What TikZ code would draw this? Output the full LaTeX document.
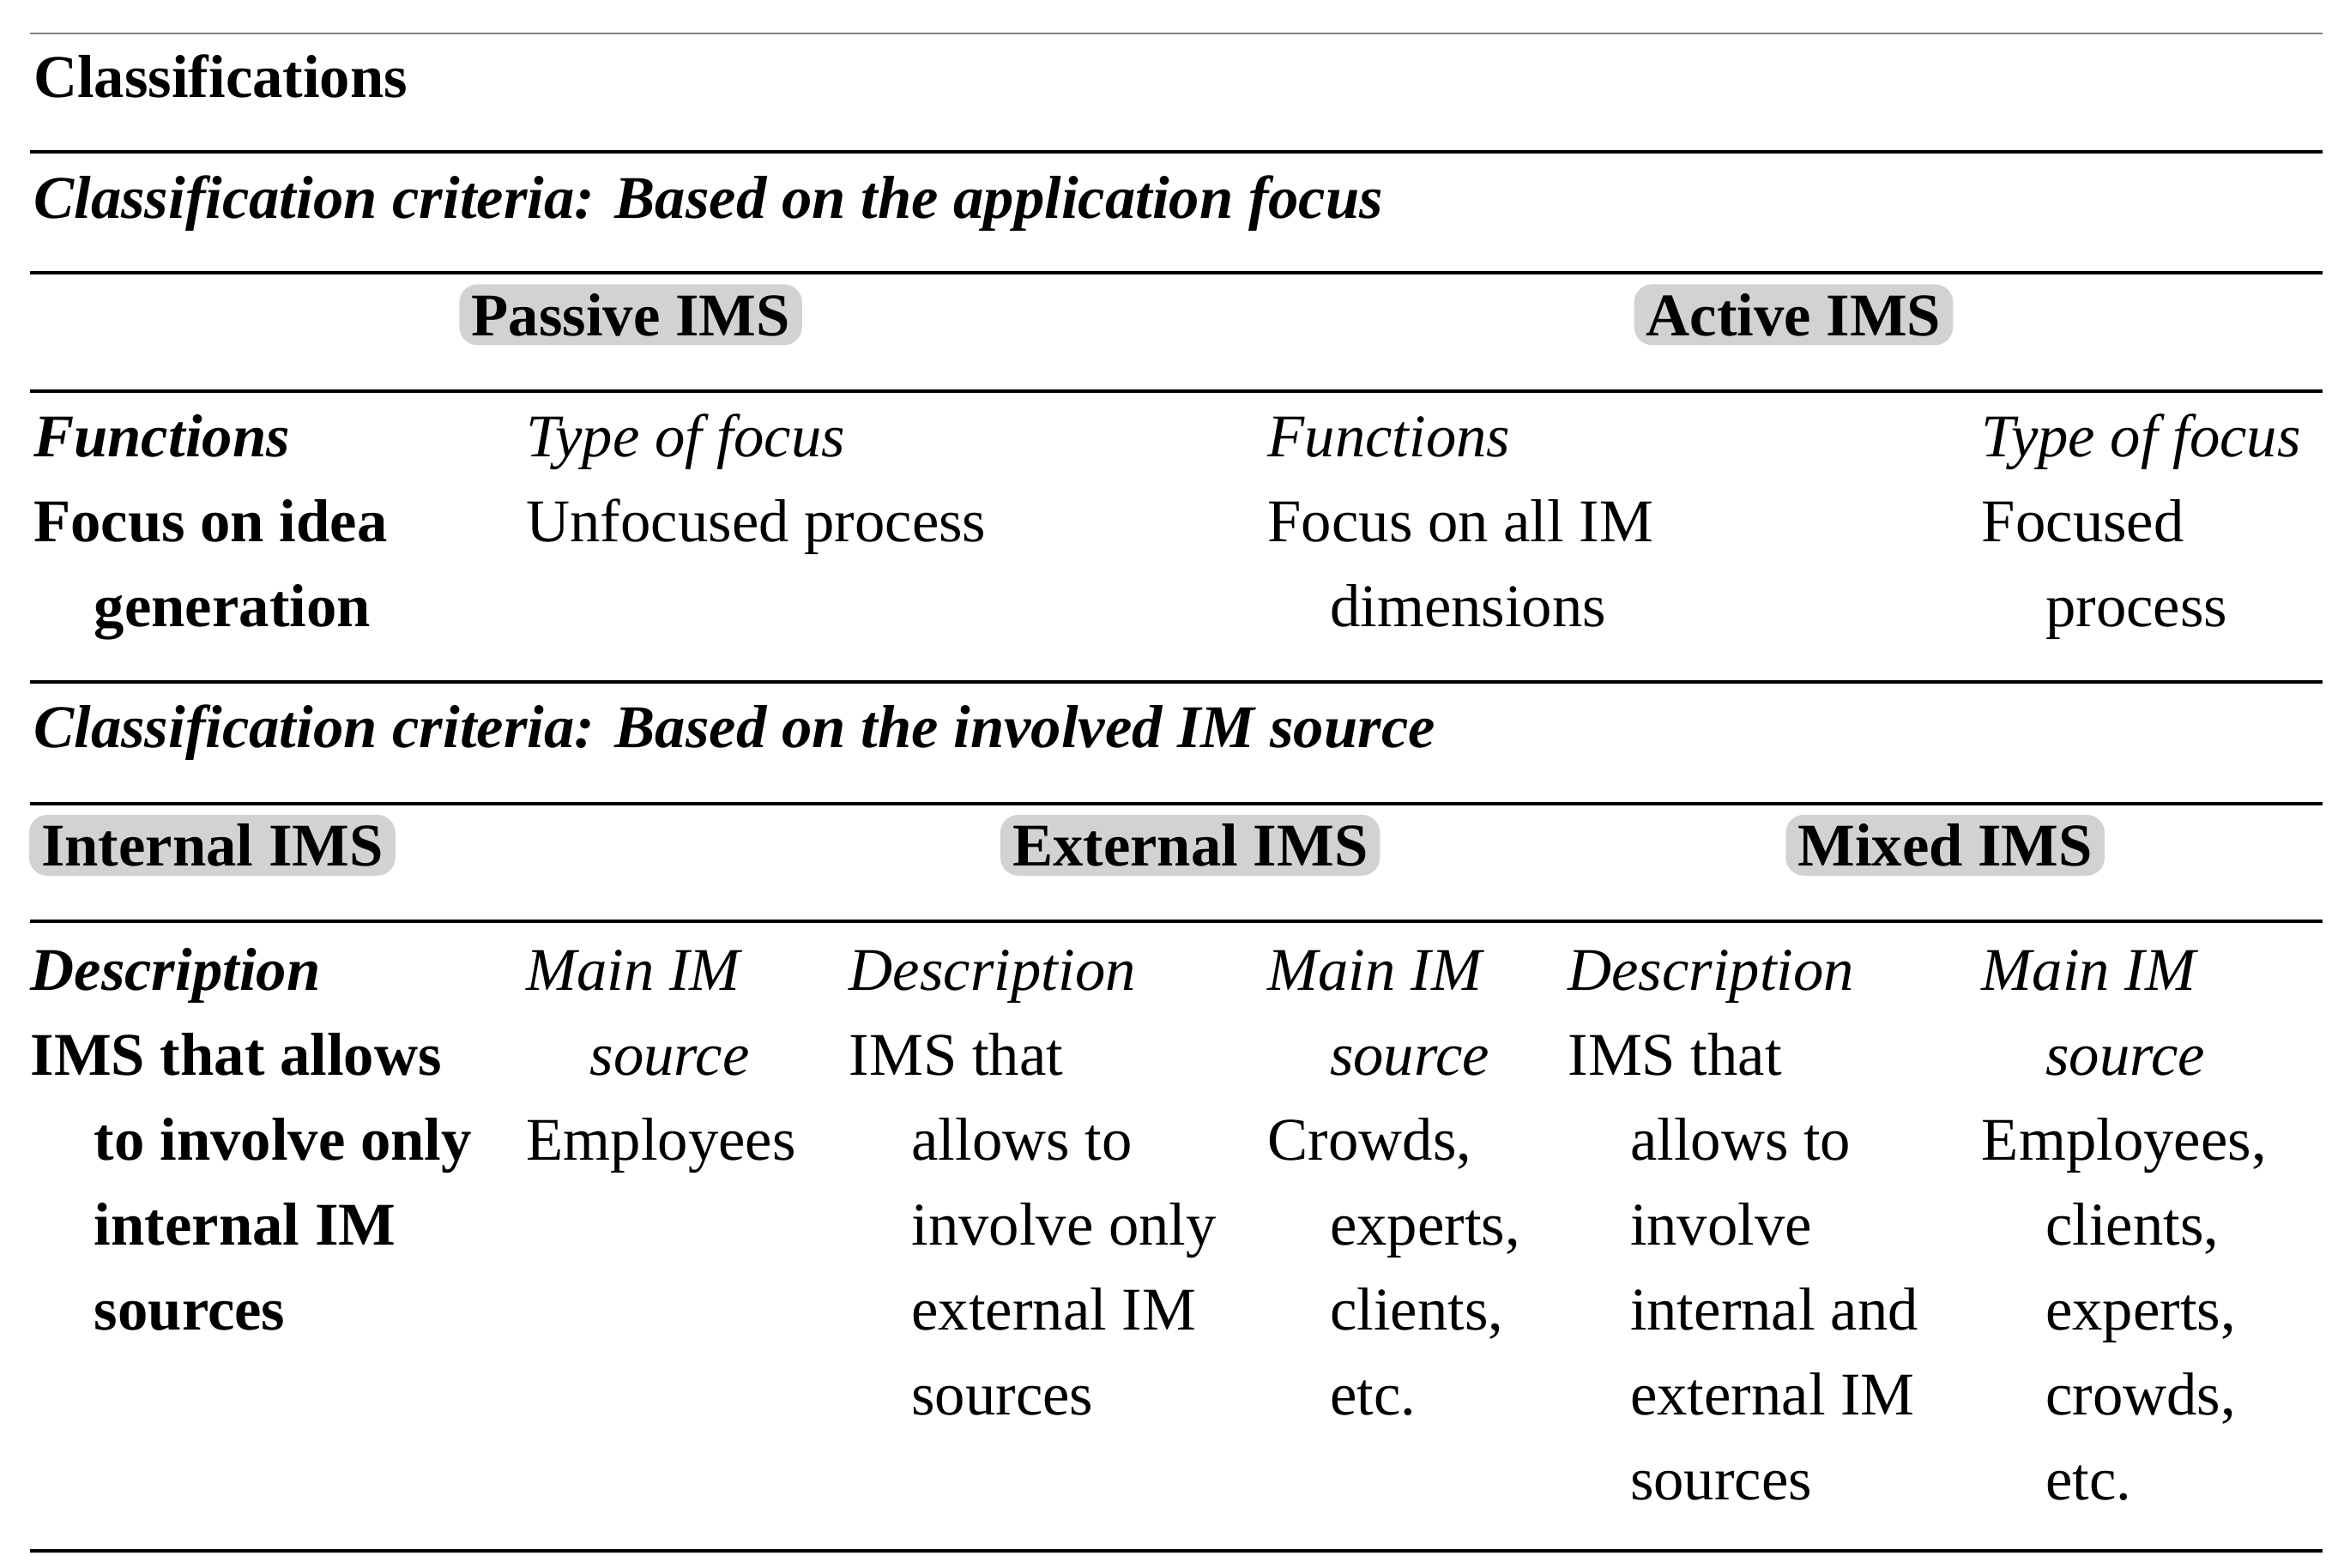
\documentclass[tikz,border=0pt]{standalone}
\usepackage{fontspec}
\setmainfont{Liberation Serif}
\begin{document}
\begin{tikzpicture}[x=1pt,y=-1pt,
  txt/.style={anchor=mid west,inner sep=0pt,font=\fontsize{40}{48}\selectfont},
  bf/.style={txt,font=\fontsize{40}{48}\selectfont\bfseries},
  it/.style={txt,font=\fontsize{40}{48}\selectfont\itshape},
  bi/.style={txt,font=\fontsize{40}{48}\selectfont\bfseries\itshape},
  hl/.style={anchor=mid,font=\fontsize{40}{48}\selectfont\bfseries,fill=gray!35,rounded corners=12pt,inner xsep=8pt,inner ysep=6pt},
  rule/.style={line width=2.2pt}]
\useasboundingbox (0,0) rectangle (1550,1034);
\draw[gray,line width=0.8pt] (20,22) -- (1532,22);
\foreach \y in {100,180,258,450,530,608,1023} \draw[rule] (20,\y) -- (1532,\y);
\node[bf] (cl) at (22,62) {Classifications};
\node[bi] (c1) at (22,142) {Classification criteria: Based on the application focus};
\node[hl] (pas) at (416,219) {Passive IMS};
\node[hl] (act) at (1183,219) {Active IMS};
\node[bi] (f1) at (22,299) {Functions};
\node[it] (t1) at (347,299) {Type of focus};
\node[it] (f2) at (836,299) {Functions};
\node[it] (t2) at (1307,299) {Type of focus};
\node[bf] (a1) at (22,355) {Focus on idea};
\node[bf] (a2) at (62,411) {generation};
\node[txt] (b1) at (347,355) {Unfocused process};
\node[txt] (c1a) at (836,355) {Focus on all IM};
\node[txt] (c2a) at (877,411) {dimensions};
\node[txt] (d1) at (1307,355) {Focused};
\node[txt] (d2) at (1349,411) {process};
\node[bi] (c2) at (22,491) {Classification criteria: Based on the involved IM source};
\node[hl] (int) at (140,569) {Internal IMS};
\node[hl] (ext) at (785,569) {External IMS};
\node[hl] (mix) at (1283,569) {Mixed IMS};
\node[bi] (h1) at (20,651) {Description};
\node[it] (h2) at (347,651) {Main IM};
\node[it] (h3) at (560,651) {Description};
\node[it] (h4) at (836,651) {Main IM};
\node[it] (h5) at (1034,651) {Description};
\node[it] (h6) at (1307,651) {Main IM};
\node[it] (s2) at (389,707) {source};
\node[it] (s4) at (877,707) {source};
\node[it] (s6) at (1349,707) {source};
\node[bf] (i1) at (20,707) {IMS that allows};
\node[bf] (i2) at (62,763) {to involve only};
\node[bf] (i3) at (62,819) {internal IM};
\node[bf] (i4) at (62,875) {sources};
\node[txt] (e0) at (347,763) {Employees};
\node[txt] (x1) at (560,707) {IMS that};
\node[txt] (x2) at (601,763) {allows to};
\node[txt] (x3) at (601,819) {involve only};
\node[txt] (x4) at (601,875) {external IM};
\node[txt] (x5) at (601,931) {sources};
\node[txt] (y1) at (836,763) {Crowds,};
\node[txt] (y2) at (877,819) {experts,};
\node[txt] (y3) at (877,875) {clients,};
\node[txt] (y4) at (877,931) {etc.};
\node[txt] (m1) at (1034,707) {IMS that};
\node[txt] (m2) at (1075,763) {allows to};
\node[txt] (m3) at (1075,819) {involve};
\node[txt] (m4) at (1075,875) {internal and};
\node[txt] (m5) at (1075,931) {external IM};
\node[txt] (m6) at (1075,987) {sources};
\node[txt] (n1) at (1307,763) {Employees,};
\node[txt] (n2) at (1349,819) {clients,};
\node[txt] (n3) at (1349,875) {experts,};
\node[txt] (n4) at (1349,931) {crowds,};
\node[txt] (n5) at (1349,987) {etc.};
\end{tikzpicture}
\end{document}
